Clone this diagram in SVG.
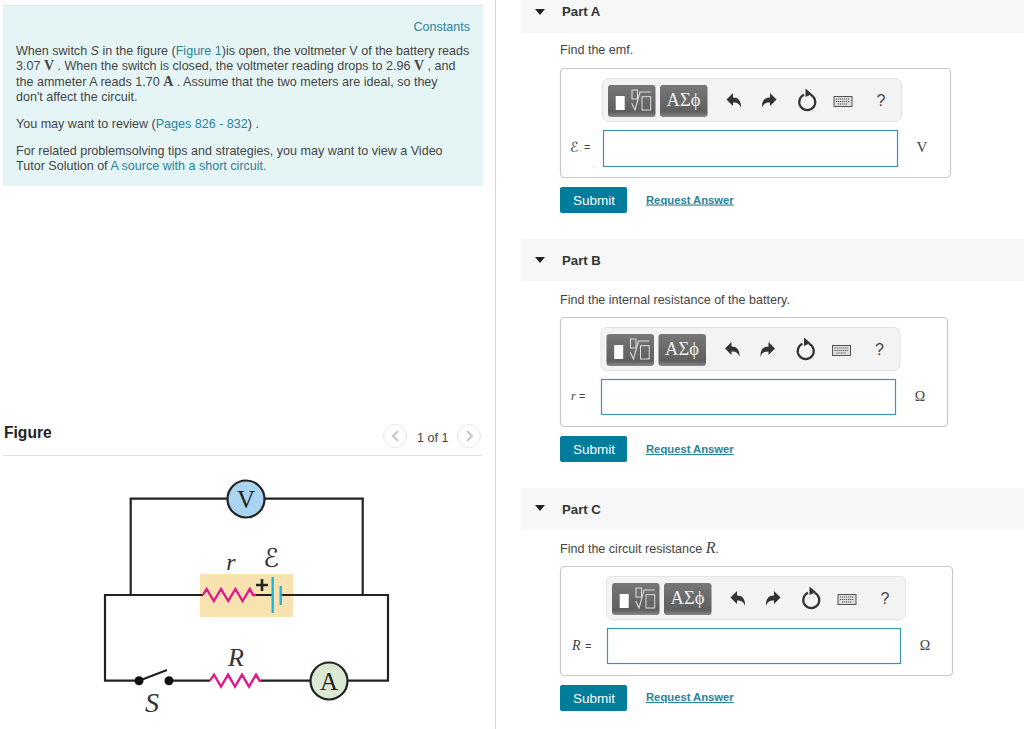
<svg xmlns="http://www.w3.org/2000/svg" width="1024" height="729" viewBox="0 0 1024 729">
<style>
text{font-family:"Liberation Sans",Arial,sans-serif;font-size:12.55px;fill:#444}
.l{fill:#2b8299}
.s{font-family:"Liberation Serif","DejaVu Serif",serif}
.e{font-family:"DejaVu Sans",sans-serif;font-style:italic;fill:#333}
.b{font-weight:bold;font-size:15.6px}
.h{font-weight:bold;font-size:13.200px;fill:#333}
.wire{fill:none;stroke:#222;stroke-width:2.2}
.zig{fill:none;stroke:#e0198c;stroke-width:2.4;stroke-linejoin:miter}
.bar{fill:#f3f3f3;stroke:#e3e3e3}
.panel{fill:#fff;stroke:#c8c8c8;stroke-width:1.2}
.input{fill:#fff;stroke:#3d94ad;stroke-width:1.2}
.submit{fill:#007c9c}
.band{fill:#f7f7f7}
.ico{fill:#333}
.sub{font-size:13.500px;fill:#fff}
.req{font-weight:bold;font-size:11.250px;text-decoration:underline;fill:#2b8299}
.m{font-family:"Liberation Serif",serif;font-style:italic;font-size:28px;fill:#333}
</style>
<defs>
<linearGradient id="g" x1="0" y1="0" x2="0" y2="1"><stop offset="0" stop-color="#777"/><stop offset=".85" stop-color="#5f5f5f"/><stop offset="1" stop-color="#8a8a8a"/></linearGradient>
<g id="tb">
<rect class="bar" x="0.5" y="0.5" width="299" height="43" rx="6"/>
<rect x="6" y="7" width="47.500" height="32" rx="3" fill="url(#g)"/>
<rect x="58" y="7" width="47.500" height="32" rx="3" fill="url(#g)"/>
<rect x="13.700" y="18" width="9" height="14" fill="#fff"/>
<path d="M29.700 25.300L33 32L38 14H48.700" fill="none" stroke="#ddd" stroke-width="1.100"/>
<rect x="30" y="12" width="5.500" height="9" fill="none" stroke="#ddd"/>
<rect x="40" y="18.700" width="8.700" height="13.300" fill="none" stroke="#ddd"/>
<text x="81.500" y="28" text-anchor="middle" class="s" style="font-size:18.500px;fill:#eee">ΑΣϕ</text>
<path class="ico" d="M124.500 21.500l6.500-6.500v4.500c5 0 8.500 3 8 10.500-1-3.500-3-5.500-8-5.500v3.500z"/>
<path class="ico" d="M174.500 21.500l-6.500-6.500v4.500c-5 0-8.500 3-8 10.500 1-3.500 3-5.500 8-5.500v3.500z"/>
<path d="M202 16.800a8 8 0 1 0 6.500 0" fill="none" stroke="#333" stroke-width="2.200"/>
<path class="ico" d="M203.500 10.500l6.500 5.500-6.500 3z"/>
<rect x="232" y="18.500" width="18" height="10" fill="#ddd" stroke="#555"/>
<path d="M234 21h14M234 23.500h14M236 26h10" stroke="#555" stroke-width="1" stroke-dasharray="1.200 .8"/>
<text x="279" y="28" text-anchor="middle" style="font-size:16px;fill:#444">?</text>
</g>
<path id="arrow" d="M-5-3h10l-5 6z" fill="#222"/>
</defs>

<g id="intro">
<rect x="3" y="5" width="480" height="181" fill="#e5f5f6"/>
<path d="M3 5.500h480" stroke="#dde6ea"/>
<text x="470" y="30.500" text-anchor="end" class="l">Constants</text>
<text x="16" y="55">When switch <tspan font-style="italic">S</tspan> in the figure (<tspan class="l">Figure 1</tspan>)is open, the voltmeter V of the battery reads</text>
<text x="16" y="70">3.07 <tspan class="s" font-weight="bold" font-size="14">V</tspan> . When the switch is closed, the voltmeter reading drops to 2.96 <tspan class="s" font-weight="bold" font-size="14">V</tspan> , and</text>
<text x="16" y="86">the ammeter A reads 1.70 <tspan class="s" font-weight="bold" font-size="14">A</tspan> . Assume that the two meters are ideal, so they</text>
<text x="16" y="101">don't affect the circuit.</text>
<text x="16" y="128">You may want to review (<tspan class="l">Pages 826 - 832</tspan>) .</text>
<text x="16" y="155">For related problemsolving tips and strategies, you may want to view a Video</text>
<text x="16" y="170">Tutor Solution of <tspan class="l">A source with a short circuit.</tspan></text>
</g>

<path d="M495.500 0v729" stroke="#d8d8d8"/>

<g id="figure-header">
<text x="4" y="438" class="b" style="fill:#222">Figure</text>
<circle cx="395" cy="436" r="11.500" fill="#fff" stroke="#e6e6e6"/>
<path d="M398 431l-5 5 5 5" fill="none" stroke="#c4c4c4" stroke-width="2"/>
<text x="417" y="442">1 of 1</text>
<circle cx="469" cy="436" r="11.500" fill="#fff" stroke="#e6e6e6"/>
<path d="M467 431l5 5-5 5" fill="none" stroke="#c4c4c4" stroke-width="2"/>
<path d="M3 455.500h479" stroke="#e0e0e0"/>
</g>

<g id="connectors">
<rect x="200" y="574" width="93" height="43" fill="#f8e3b0"/>
<path class="wire" d="M130.700 595V498.700H228M264 498.700H362.700V595"/>
<path class="wire" d="M203 595H105V680.700H139M169 680.700H210M261 680.700H310M348 680.700H388V595H281M254 595H273"/>
<path class="wire" d="M139 680.700L167 670"/>
</g>
<g id="node-r"><path class="zig" d="M203 595l3.600-6 7.200 12 7.200-12 7.200 12 7.200-12 7.200 12 7.200-12 3.200 6h3"/>
<text x="231" y="570" text-anchor="middle" class="m" style="font-size:24px">r</text>
<text x="271" y="567" text-anchor="middle" class="e" style="font-size:26px">ℰ</text></g>
<g id="node-battery">
<path d="M272.700 577v36M280.700 586v19" stroke="#19b5e5" stroke-width="2.400"/>
<path d="M262 579v12M256 585h12" stroke="#222" stroke-width="2.600"/>
</g>
<g id="node-V"><circle cx="246" cy="499" r="18.500" fill="#a9d5f2" stroke="#222" stroke-width="2.200"/><text x="246" y="508" text-anchor="middle" class="s" style="font-size:25px;fill:#222">V</text></g>
<g id="node-A"><circle cx="329" cy="681" r="18.500" fill="#dce9d2" stroke="#222" stroke-width="2.200"/><text x="329" y="690" text-anchor="middle" class="s" style="font-size:25px;fill:#222">A</text></g>
<g id="node-S"><circle cx="139" cy="680.700" r="4.500" fill="#111"/><circle cx="169" cy="680.700" r="4.500" fill="#111"/><text x="152" y="712" text-anchor="middle" class="m">S</text></g>
<g id="node-R"><path class="zig" d="M210 680.700l4-6 7 12 7-12 7 12 7-12 7 12 7-12 3.500 6h2"/><text x="236" y="666" text-anchor="middle" class="m" style="font-size:26px">R</text></g>

<g id="part-a">
<rect class="band" x="521" y="0" width="503" height="33"/>
<use href="#arrow" transform="translate(540 12)"/>
<text x="562" y="16" class="h">Part A</text>
<text x="560" y="54">Find the emf.</text>
<rect class="panel" x="560.500" y="68.500" width="390" height="109" rx="4"/>
<use href="#tb" transform="translate(602 78)"/>
<text x="570" y="152" class="e" style="font-size:14px">ℰ</text><text x="584" y="151" style="font-size:11px">=</text>
<rect class="input" x="603.500" y="130.500" width="294" height="36"/>
<text x="922" y="152" text-anchor="middle" class="s" style="font-size:15px">V</text>
<rect class="submit" x="560" y="187" width="67" height="26" rx="2"/>
<text x="594" y="205" text-anchor="middle" class="sub">Submit</text>
<text x="646" y="203.500" class="req">Request Answer</text>
</g>

<g id="part-b">
<rect class="band" x="521" y="239" width="503" height="42"/>
<use href="#arrow" transform="translate(540 260)"/>
<text x="562" y="264.500" class="h">Part B</text>
<text x="560" y="303.500">Find the internal resistance of the battery.</text>
<rect class="panel" x="560.500" y="317.500" width="387" height="109" rx="4"/>
<use href="#tb" transform="translate(600.500 327)"/>
<text x="571" y="400" class="s" style="font-size:12px;font-style:italic">r</text><text x="579" y="400" style="font-size:11px">=</text>
<rect class="input" x="601.500" y="379.500" width="294" height="35"/>
<text x="920" y="401" text-anchor="middle" class="s" style="font-size:14px">Ω</text>
<rect class="submit" x="560" y="436" width="67" height="26" rx="2"/>
<text x="594" y="454" text-anchor="middle" class="sub">Submit</text>
<text x="646" y="453" class="req">Request Answer</text>
</g>

<g id="part-c">
<rect class="band" x="521" y="488" width="503" height="42"/>
<use href="#arrow" transform="translate(540 508)"/>
<text x="562" y="513.500" class="h">Part C</text>
<text x="560" y="552.500">Find the circuit resistance <tspan class="s" font-style="italic" font-size="16">R</tspan>.</text>
<rect class="panel" x="560.500" y="566.500" width="392" height="109" rx="4"/>
<use href="#tb" transform="translate(606 576)"/>
<text x="572" y="650" class="s" style="font-size:14px;font-style:italic">R</text><text x="585" y="650" style="font-size:11px">=</text>
<rect class="input" x="607.500" y="628.500" width="293" height="35"/>
<text x="925" y="650" text-anchor="middle" class="s" style="font-size:14px">Ω</text>
<rect class="submit" x="560" y="685" width="67" height="26" rx="2"/>
<text x="594" y="703" text-anchor="middle" class="sub">Submit</text>
<text x="646" y="701" class="req">Request Answer</text>
</g>
</svg>
